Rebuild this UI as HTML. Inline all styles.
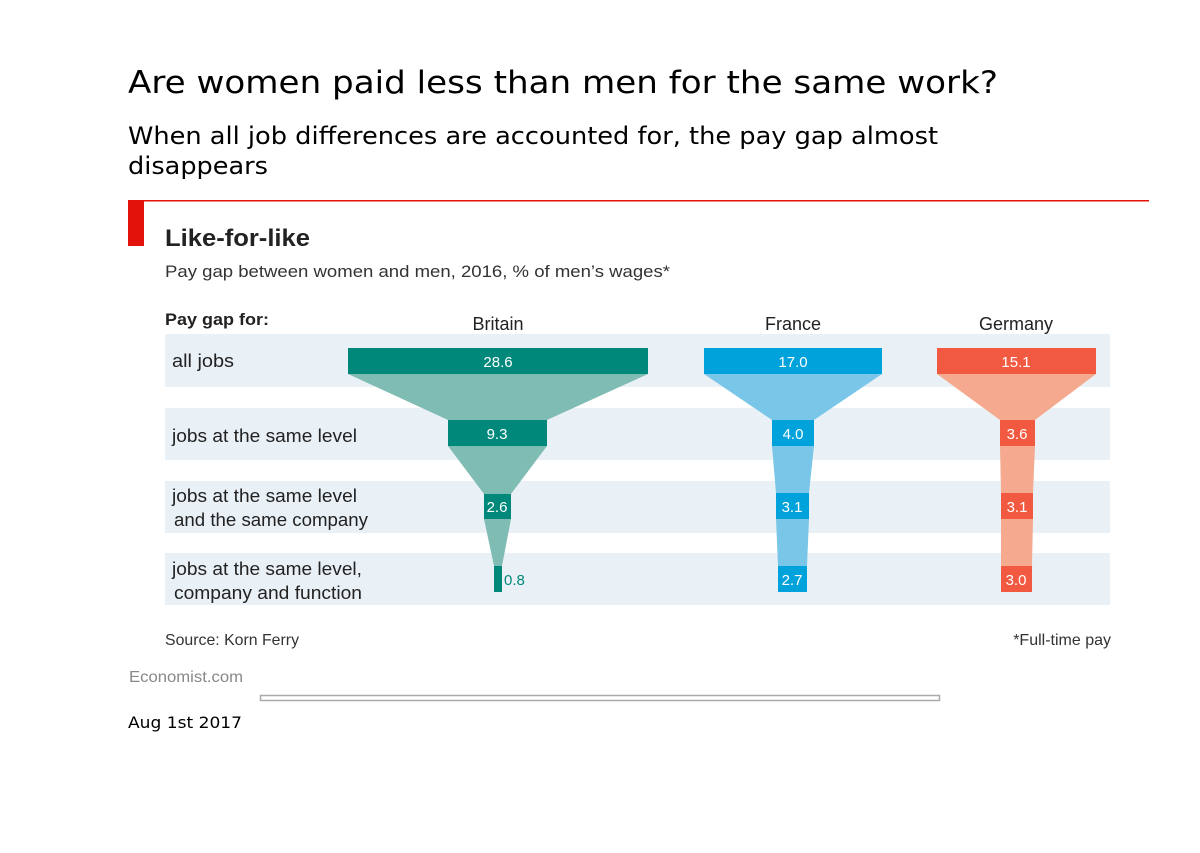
<!DOCTYPE html>
<html><head><style>
body{margin:0;background:#fff;width:1200px;height:849px;overflow:hidden;font-family:"DejaVu Sans","Liberation Sans",sans-serif}
</style></head><body>
<svg width="1200" height="849" viewBox="0 0 1200 849" xmlns="http://www.w3.org/2000/svg">
<text x="128" y="93" font-size="31" fill="#000" font-family="DejaVu Sans, sans-serif" textLength="870" lengthAdjust="spacingAndGlyphs">Are women paid less than men for the same work?</text>
<text x="128" y="144" font-size="24" fill="#000" font-family="DejaVu Sans, sans-serif" textLength="810" lengthAdjust="spacingAndGlyphs">When all job differences are accounted for, the pay gap almost</text>
<text x="128" y="174" font-size="24" fill="#000" font-family="DejaVu Sans, sans-serif" textLength="140" lengthAdjust="spacingAndGlyphs">disappears</text>
<rect x="128" y="200" width="1021" height="1.5" fill="#e3120b"/>
<rect x="128" y="200" width="16" height="46" fill="#e3120b"/>
<g font-family="Liberation Sans, sans-serif">
<text x="165" y="246" font-size="24" font-weight="bold" fill="#222" textLength="145" lengthAdjust="spacingAndGlyphs">Like-for-like</text>
<text x="165" y="277" font-size="17" fill="#333" textLength="505" lengthAdjust="spacingAndGlyphs">Pay gap between women and men, 2016, % of men’s wages*</text>
<text x="165" y="325" font-size="17" font-weight="bold" fill="#222" textLength="104" lengthAdjust="spacingAndGlyphs">Pay gap for:</text>
<text x="498" y="330" font-size="18" fill="#222" text-anchor="middle">Britain</text>
<text x="793" y="330" font-size="18" fill="#222" text-anchor="middle">France</text>
<text x="1016" y="330" font-size="18" fill="#222" text-anchor="middle">Germany</text>
<rect x="165" y="334" width="945" height="53" fill="#eaf1f6"/>
<rect x="165" y="408" width="945" height="52" fill="#eaf1f6"/>
<rect x="165" y="481" width="945" height="52" fill="#eaf1f6"/>
<rect x="165" y="553" width="945" height="52" fill="#eaf1f6"/>
<g font-size="18" fill="#222">
<text x="172" y="367" textLength="62" lengthAdjust="spacingAndGlyphs">all jobs</text>
<text x="172" y="442" textLength="185" lengthAdjust="spacingAndGlyphs">jobs at the same level</text>
<text x="172" y="502" textLength="185" lengthAdjust="spacingAndGlyphs">jobs at the same level</text>
<text x="174" y="526" textLength="194" lengthAdjust="spacingAndGlyphs">and the same company</text>
<text x="172" y="575" textLength="190" lengthAdjust="spacingAndGlyphs">jobs at the same level,</text>
<text x="174" y="599" textLength="188" lengthAdjust="spacingAndGlyphs">company and function</text>
</g>
<g fill="#7fbcb4">
<polygon points="348,374 648,374 547,420 448,420"/>
<polygon points="448,446 547,446 511,494 484,494"/>
<polygon points="484,519 511,519 502,566 494,566"/>
</g>
<g fill="#00887a">
<rect x="348" y="348" width="300" height="26"/>
<rect x="448" y="420" width="99" height="26"/>
<rect x="484" y="494" width="27" height="25"/>
<rect x="494" y="566" width="8" height="26"/>
</g>
<g fill="#79c6e8">
<polygon points="704,374 882,374 814,420 772,420"/>
<polygon points="772,446 814,446 809,493 776,493"/>
<polygon points="776,519 809,519 807,566 778,566"/>
</g>
<g fill="#00a2dc">
<rect x="704" y="348" width="178" height="26"/>
<rect x="772" y="420" width="42" height="26"/>
<rect x="776" y="493" width="33" height="26"/>
<rect x="778" y="566" width="29" height="26"/>
</g>
<g fill="#f5a98e">
<polygon points="937,374 1096,374 1035,420 1000,420"/>
<polygon points="1000,446 1035,446 1033,493 1001,493"/>
<polygon points="1001,519 1033,519 1032,566 1001,566"/>
</g>
<g fill="#f15a40">
<rect x="937" y="348" width="159" height="26"/>
<rect x="1000" y="420" width="35" height="26"/>
<rect x="1001" y="493" width="32" height="26"/>
<rect x="1001" y="566" width="31" height="26"/>
</g>
<g font-size="15" fill="#fff" text-anchor="middle">
<text x="498" y="367">28.6</text>
<text x="497" y="439">9.3</text>
<text x="497" y="512">2.6</text>
<text x="793" y="367">17.0</text>
<text x="793" y="439">4.0</text>
<text x="792" y="512">3.1</text>
<text x="792" y="585">2.7</text>
<text x="1016" y="367">15.1</text>
<text x="1017" y="439">3.6</text>
<text x="1017" y="512">3.1</text>
<text x="1016" y="585">3.0</text>
</g>
<text x="504" y="585" font-size="15" fill="#00887a">0.8</text>
<text x="165" y="645" font-size="16" fill="#333" textLength="134" lengthAdjust="spacingAndGlyphs">Source: Korn Ferry</text>
<text x="1111" y="645" font-size="16" fill="#333" text-anchor="end">*Full-time pay</text>
<text x="129" y="682" font-size="16" fill="#888" textLength="114" lengthAdjust="spacingAndGlyphs">Economist.com</text>
</g>
<rect x="260.5" y="695.5" width="679" height="5" fill="none" stroke="#aaa" stroke-width="1.5"/>
<text x="128" y="728" font-size="16" fill="#000" font-family="DejaVu Sans, sans-serif" textLength="114" lengthAdjust="spacingAndGlyphs">Aug 1st 2017</text>
</svg>
</body></html>
